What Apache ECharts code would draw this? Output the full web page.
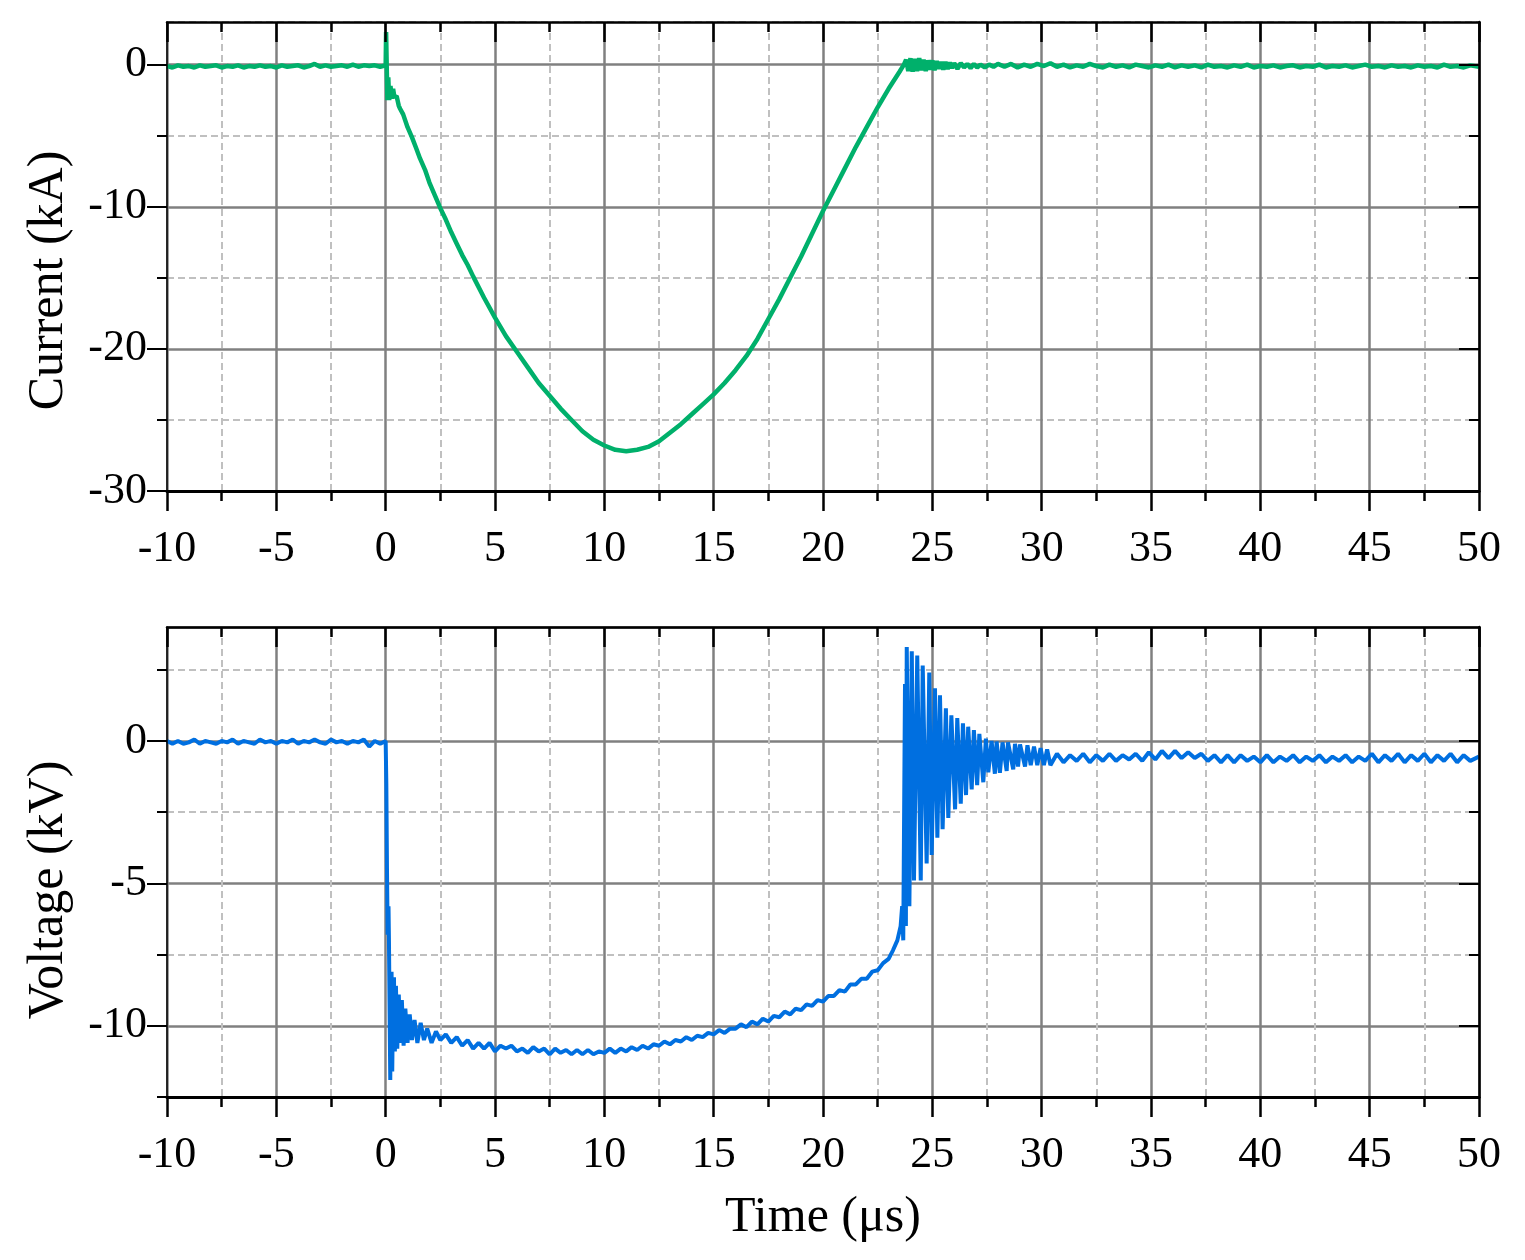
<!DOCTYPE html>
<html>
<head>
<meta charset="utf-8">
<script src="https://cdn.jsdelivr.net/npm/echarts@6/dist/echarts.min.js"></script>
<style>
html,body{margin:0;padding:0;background:#fff;}
#chart{width:1525px;height:1260px;}
</style>
</head>
<body>
<div id="chart"></div>
<script>
// ---------- axis ranges / tick values ----------
const X_MIN = -10, X_MAX = 50, X_STEP = 5;
const I_MIN = -30, I_MAX = 3, I_STEP = 5;
const I_MAJOR = [-30, -20, -10, 0];
const I_MINOR = [-25, -15, -5];
const V_MIN = -12.5, V_MAX = 4, V_STEP = 2.5;
const V_MAJOR = [-10, -5, 0];
const V_MINOR = [-12.5, -7.5, -2.5, 2.5];

// ---------- current (kA) vs time (us) ----------
const currentPre = [[-10,-0.1],[-9.75,-0.2],[-9.5,-0.05],[-9.25,-0.15],[-9,-0.1],[-8.75,-0.2],[-8.5,-0.05],[-8.25,-0.15],[-8,-0.1],[-7.75,-0.05],[-7.5,-0.2],[-7.25,-0.1],[-7,-0.15],[-6.75,-0.05],[-6.5,-0.2],[-6.25,-0.1],[-6,-0.15],[-5.75,-0.05],[-5.5,-0.15],[-5.25,-0.1],[-5,-0.2],[-4.75,-0.05],[-4.5,-0.15],[-4.25,-0.1],[-4,-0.05],[-3.75,-0.2],[-3.5,-0.1],[-3.25,0.05],[-3,-0.15],[-2.75,-0.05],[-2.5,-0.15],[-2.25,-0.1],[-2,-0.05],[-1.75,-0.15],[-1.5,0.0],[-1.25,-0.15],[-1,-0.05],[-0.75,-0.1],[-0.5,-0.05],[-0.25,-0.15],[0,-0.05]];
const currentPulse = [[0.02,2.3],[0.05,-0.3],[0.08,-2.5],[0.12,-0.9],[0.16,-2.5],[0.22,-1.5],[0.28,-2.4],[0.34,-1.7],[0.4,-2.3],[0.5,-2.2],[0.6,-2.9],[0.66,-3.1],[0.8,-3.5],[1.0,-4.4],[1.2,-5.1],[1.4,-5.9],[1.57,-6.6],[1.8,-7.4],[2.0,-8.3],[2.25,-9.2],[2.5,-10.1],[2.75,-10.9],[3.0,-11.8],[3.25,-12.6],[3.5,-13.4],[3.75,-14.1],[4.0,-14.9],[4.5,-16.4],[5.0,-17.8],[5.5,-19.1],[6.0,-20.2],[6.5,-21.3],[7.0,-22.4],[7.5,-23.3],[8.0,-24.2],[8.5,-25.0],[9.0,-25.8],[9.5,-26.4],[10.0,-26.8],[10.5,-27.1],[11.0,-27.2],[11.5,-27.1],[12.0,-26.9],[12.5,-26.5],[13.0,-25.9],[13.5,-25.3],[14.0,-24.6],[14.5,-23.9],[15.0,-23.2],[15.5,-22.4],[16.0,-21.5],[16.5,-20.5],[17.0,-19.3],[17.5,-17.9],[18.0,-16.5],[18.5,-15.0],[19.0,-13.5],[19.5,-11.9],[20.0,-10.3],[20.5,-8.8],[21.0,-7.3],[21.5,-5.8],[22.0,-4.4],[22.5,-3.0],[23.0,-1.7],[23.5,-0.5],[23.7,0.0]];
const currentPost = [[23.8,0.35],[23.9,-0.45],[24.0,0.45],[24.1,-0.5],[24.2,0.4],[24.3,-0.45],[24.4,0.45],[24.5,-0.4],[24.6,0.35],[24.7,-0.45],[24.8,0.3],[24.9,-0.35],[25.0,0.3],[25.1,-0.4],[25.2,0.25],[25.3,-0.3],[25.4,0.2],[25.5,-0.35],[25.6,0.2],[25.7,-0.3],[25.8,0.15],[25.9,-0.25],[26.0,0.1],[26.15,-0.3],[26.3,0.1],[26.45,-0.2],[26.6,0.05],[26.75,-0.25],[26.9,0.05],[27.05,-0.2],[27.2,0.0],[27.4,-0.2],[27.6,0.0],[27.8,-0.15],[28.0,0.05],[28.3,-0.15],[28.6,0.05],[28.9,-0.2],[29.2,0.0],[29.5,-0.15],[29.8,0.05],[30.1,-0.1],[30.4,0.1],[30.7,-0.15],[31.0,0.0],[31.3,-0.2],[31.6,-0.05],[31.9,-0.15],[32.2,0.05],[32.5,-0.1],[32.8,-0.2],[33.1,0.0],[33.4,-0.15],[33.7,-0.05],[34.0,-0.2],[34.3,0.0],[34.6,-0.1],[34.9,-0.2],[35.2,-0.05],[35.5,-0.15],[35.8,0.0],[36.1,-0.2],[36.4,-0.05],[36.7,-0.15],[37.0,-0.05],[37.3,-0.2],[37.6,0.0],[37.9,-0.15],[38.2,-0.1],[38.5,-0.2],[38.8,-0.05],[39.1,-0.15],[39.4,0.0],[39.7,-0.2],[40.0,-0.1],[40.3,-0.15],[40.6,-0.05],[40.9,-0.2],[41.2,-0.1],[41.5,-0.05],[41.8,-0.2],[42.1,-0.1],[42.4,-0.15],[42.7,0.0],[43.0,-0.2],[43.3,-0.1],[43.6,-0.15],[43.9,-0.05],[44.2,-0.2],[44.5,-0.1],[44.8,0.0],[45.1,-0.15],[45.4,-0.1],[45.7,-0.2],[46.0,-0.05],[46.3,-0.15],[46.6,-0.1],[46.9,-0.2],[47.2,-0.05],[47.5,-0.15],[47.8,-0.1],[48.1,-0.2],[48.4,0.0],[48.7,-0.15],[49.0,-0.1],[49.3,-0.2],[49.6,-0.05],[50.0,-0.15]];

// ---------- voltage (kV) vs time (us) ----------
const voltagePre = [[-10,0.0],[-9.75,-0.1],[-9.5,0.0],[-9.25,-0.1],[-9,-0.05],[-8.75,0.05],[-8.5,-0.1],[-8.25,0.0],[-8,-0.05],[-7.75,-0.1],[-7.5,0.0],[-7.25,-0.05],[-7,0.05],[-6.75,-0.1],[-6.5,0.0],[-6.25,-0.05],[-6,-0.1],[-5.75,0.05],[-5.5,-0.05],[-5.25,0.0],[-5,-0.1],[-4.75,0.0],[-4.5,-0.05],[-4.25,0.05],[-4,-0.1],[-3.75,0.0],[-3.5,-0.05],[-3.25,0.05],[-3,-0.05],[-2.75,-0.1],[-2.5,0.05],[-2.25,-0.05],[-2,0.0],[-1.75,-0.1],[-1.5,0.0],[-1.25,-0.05],[-1,0.05],[-0.75,-0.2],[-0.5,0.0],[-0.25,-0.1],[0,0.0]];
const voltageFall = [[0.03,-1.5],[0.06,-4.5],[0.09,-6.8],[0.11,-6.0],[0.13,-5.8],[0.15,-7.0],[0.18,-9.5],[0.21,-11.9],[0.24,-9.0],[0.27,-8.1],[0.3,-11.6],[0.34,-9.0],[0.38,-8.3],[0.42,-10.9],[0.47,-8.6],[0.53,-10.8],[0.6,-8.9],[0.67,-10.6],[0.74,-9.1],[0.82,-10.7],[0.9,-9.4],[1.0,-10.6],[1.1,-9.6],[1.2,-10.5],[1.32,-9.8],[1.45,-10.6],[1.6,-9.9],[1.75,-10.5],[1.9,-10.1],[2.1,-10.6],[2.3,-10.2],[2.5,-10.5],[2.75,-10.3],[3.0,-10.6],[3.25,-10.4],[3.5,-10.7],[3.75,-10.5],[4.0,-10.8],[4.25,-10.6],[4.5,-10.8],[4.75,-10.6],[5.0,-10.9],[5.25,-10.7],[5.5,-10.8],[5.75,-10.7],[6.0,-10.9],[6.25,-10.8],[6.5,-10.95],[6.75,-10.75],[7.0,-10.9],[7.25,-10.8],[7.5,-11.0],[7.75,-10.8],[8.0,-10.95],[8.25,-10.85],[8.5,-11.0],[8.75,-10.85],[9.0,-11.0],[9.25,-10.85],[9.5,-11.0],[9.75,-10.9],[10.0,-10.95],[10.25,-10.8],[10.5,-10.95],[10.75,-10.8],[11.0,-10.9],[11.25,-10.75],[11.5,-10.85],[11.75,-10.7],[12.0,-10.8],[12.25,-10.65],[12.5,-10.7],[12.75,-10.55],[13.0,-10.65],[13.25,-10.5],[13.5,-10.55],[13.75,-10.4],[14.0,-10.5],[14.25,-10.35],[14.5,-10.4],[14.75,-10.25],[15.0,-10.3],[15.25,-10.15],[15.5,-10.25],[15.75,-10.1],[16.0,-10.1],[16.25,-9.95],[16.5,-10.05],[16.75,-9.85],[17.0,-9.95],[17.25,-9.75],[17.5,-9.85],[17.75,-9.65],[18.0,-9.7],[18.25,-9.5],[18.5,-9.6],[18.75,-9.4],[19.0,-9.45],[19.25,-9.25],[19.5,-9.3],[19.75,-9.1],[20.0,-9.15],[20.25,-8.95],[20.5,-8.95],[20.75,-8.75],[21.0,-8.8],[21.25,-8.55],[21.5,-8.55],[21.75,-8.35],[22.0,-8.35],[22.25,-8.1],[22.5,-8.05],[22.75,-7.8],[23.0,-7.65],[23.2,-7.35],[23.4,-7.0],[23.55,-6.5],[23.62,-5.8]];
const voltageRing = [[23.67,-7.0],[23.75,2.0],[23.79,-6.5],[23.83,3.3],[23.95,-5.8],[24.06,3.15],[24.16,-4.9],[24.31,3.0],[24.47,-4.9],[24.56,2.65],[24.74,-4.3],[24.86,2.4],[24.97,-4.0],[25.12,1.85],[25.23,-3.4],[25.35,1.6],[25.47,-3.1],[25.62,1.15],[25.73,-2.7],[25.87,0.9],[26.04,-2.4],[26.14,0.8],[26.30,-2.2],[26.40,0.62],[26.54,-1.9],[26.64,0.5],[26.80,-1.7],[26.90,0.38],[27.05,-1.55],[27.15,0.25],[27.33,-1.45],[27.45,0.08],[27.56,-1.1],[27.71,0.0],[27.86,-1.15],[27.94,-0.02],[28.09,-1.12],[28.21,-0.05],[28.40,-1.05],[28.46,-0.05],[28.70,-1.0],[28.78,-0.1],[28.92,-0.9],[29.01,-0.12],[29.24,-0.9],[29.35,-0.15],[29.5,-0.85],[29.65,-0.2],[29.8,-0.85],[29.95,-0.25],[30.1,-0.85],[30.25,-0.3],[30.4,-0.85]];
const voltagePost = [[30.7,-0.45],[31.0,-0.75],[31.3,-0.5],[31.6,-0.7],[31.9,-0.45],[32.2,-0.75],[32.5,-0.5],[32.8,-0.7],[33.1,-0.45],[33.4,-0.7],[33.7,-0.5],[34.0,-0.65],[34.3,-0.45],[34.6,-0.7],[34.9,-0.4],[35.2,-0.65],[35.5,-0.35],[35.8,-0.6],[36.1,-0.35],[36.4,-0.6],[36.7,-0.4],[37.0,-0.6],[37.3,-0.45],[37.6,-0.7],[37.9,-0.5],[38.2,-0.75],[38.5,-0.5],[38.8,-0.75],[39.1,-0.5],[39.4,-0.7],[39.7,-0.55],[40.0,-0.75],[40.3,-0.5],[40.6,-0.75],[40.9,-0.55],[41.2,-0.7],[41.5,-0.5],[41.8,-0.75],[42.1,-0.55],[42.4,-0.7],[42.7,-0.5],[43.0,-0.75],[43.3,-0.55],[43.6,-0.7],[43.9,-0.5],[44.2,-0.75],[44.5,-0.55],[44.8,-0.7],[45.1,-0.45],[45.4,-0.75],[45.7,-0.5],[46.0,-0.7],[46.3,-0.45],[46.6,-0.75],[46.9,-0.5],[47.2,-0.7],[47.5,-0.45],[47.8,-0.75],[48.1,-0.5],[48.4,-0.7],[48.7,-0.45],[49.0,-0.75],[49.3,-0.5],[49.6,-0.7],[50.0,-0.55]];

// ---------- styling ----------
const FONT = 'Liberation Serif';
const BLACK = '#000';
const MAJOR_GRID = '#808080';
const MINOR_GRID = '#c0c0c0';
const NONE = 'rgba(0,0,0,0)';

const grids = [
  {left: 167, right: 46, top: 22, height: 469},
  {left: 167, right: 46, top: 627, height: 470}
];

function xAxesFor(g, name) {
  return [
    { // visible bottom axis
      gridIndex: g, type: 'value', min: X_MIN, max: X_MAX, interval: X_STEP, position: 'bottom', z: 3,
      axisLine: {show: true, onZero: false, lineStyle: {color: BLACK, width: 3}},
      axisTick: {show: true, inside: false, length: 20, lineStyle: {color: BLACK, width: 2.5}},
      minorTick: {show: true, splitNumber: 2, length: 10, lineStyle: {color: BLACK, width: 2.5}},
      splitLine: {show: false},
      axisLabel: {show: true, fontFamily: FONT, fontSize: 44, color: BLACK, margin: 36},
      name: name || '', nameLocation: 'middle', nameGap: 96,
      nameTextStyle: {fontFamily: FONT, fontSize: 50, color: BLACK}
    },
    { // top mirror
      gridIndex: g, type: 'value', min: X_MIN, max: X_MAX, interval: X_STEP, position: 'top', z: 3,
      axisLine: {show: true, onZero: false, lineStyle: {color: BLACK, width: 2.5}},
      axisTick: {show: true, inside: true, length: 20, lineStyle: {color: BLACK, width: 2.5}},
      minorTick: {show: true, splitNumber: 2, length: 10, lineStyle: {color: BLACK, width: 2.5}},
      splitLine: {show: false}, axisLabel: {show: false}
    },
    { // grid lines
      gridIndex: g, type: 'value', min: X_MIN, max: X_MAX, interval: X_STEP, position: 'bottom', z: 0,
      axisLine: {show: false, onZero: false}, axisTick: {show: false}, axisLabel: {show: false},
      minorTick: {show: false, splitNumber: 2},
      splitLine: {show: true, lineStyle: {color: MAJOR_GRID, width: 2.5}},
      minorSplitLine: {show: true, lineStyle: {color: MINOR_GRID, width: 2, type: [7, 4]}}
    }
  ];
}

function yAxesFor(g, min, max, step, majors, minors, name, majorFirst, namePad) {
  const base = {gridIndex: g, type: 'value', min: min, max: max, interval: step};
  const solidColors = majorFirst ? [MAJOR_GRID, NONE] : [NONE, MAJOR_GRID];
  const dashColors = majorFirst ? [NONE, MINOR_GRID] : [MINOR_GRID, NONE];
  return [
    Object.assign({}, base, { // left, majors + labels
      position: 'left', z: 3,
      axisLine: {show: true, onZero: false, lineStyle: {color: BLACK, width: 1.5}},
      axisTick: {show: true, inside: false, length: 20, customValues: majors, lineStyle: {color: BLACK, width: 2}},
      axisLabel: {show: true, fontFamily: FONT, fontSize: 44, color: BLACK, margin: 20,
        formatter: v => (majors.indexOf(v) >= 0 ? String(v) : '')},
      splitLine: {show: false},
      name: name, nameLocation: 'middle', nameGap: 93,
      nameTextStyle: {fontFamily: FONT, fontSize: 50, color: BLACK, padding: namePad}
    }),
    Object.assign({}, base, { // left, minors
      position: 'left', z: 3,
      axisLine: {show: false, onZero: false},
      axisTick: {show: true, inside: false, length: 10, customValues: minors, lineStyle: {color: BLACK, width: 2}},
      axisLabel: {show: false}, splitLine: {show: false}
    }),
    Object.assign({}, base, { // right, majors
      position: 'right', z: 3,
      axisLine: {show: true, onZero: false, lineStyle: {color: BLACK, width: 2.5}},
      axisTick: {show: true, inside: true, length: 20, customValues: majors, lineStyle: {color: BLACK, width: 2}},
      axisLabel: {show: false}, splitLine: {show: false}
    }),
    Object.assign({}, base, { // right, minors
      position: 'right', z: 3,
      axisLine: {show: false, onZero: false},
      axisTick: {show: true, inside: true, length: 10, customValues: minors, lineStyle: {color: BLACK, width: 2}},
      axisLabel: {show: false}, splitLine: {show: false}
    }),
    Object.assign({}, base, { // solid major grid lines
      position: 'left', z: 0,
      axisLine: {show: false, onZero: false}, axisTick: {show: false}, axisLabel: {show: false},
      splitLine: {show: true, lineStyle: {color: solidColors, width: 2.5}}
    }),
    Object.assign({}, base, { // dashed minor grid lines
      position: 'left', z: 0,
      axisLine: {show: false, onZero: false}, axisTick: {show: false}, axisLabel: {show: false},
      splitLine: {show: true, lineStyle: {color: dashColors, width: 2, type: [7, 4]}}
    })
  ];
}

const xAxes = xAxesFor(0, '').concat(xAxesFor(1, 'Time (\u03bcs)'));
const yAxes = yAxesFor(0, I_MIN, I_MAX, I_STEP, I_MAJOR, I_MINOR, 'Current (kA)', true, [0, 48, 0, 0])
  .concat(yAxesFor(1, V_MIN, V_MAX, V_STEP, V_MAJOR, V_MINOR, 'Voltage (kV)', false, [0, 56, 0, 0]));

const chart = echarts.init(document.getElementById('chart'), null, {renderer: 'canvas', width: 1525, height: 1260});
chart.setOption({
  animation: false,
  backgroundColor: '#fff',
  grid: grids,
  xAxis: xAxes,
  yAxis: yAxes,
  series: [
    {
      name: 'Current', type: 'line', xAxisIndex: 0, yAxisIndex: 0, z: 2,
      showSymbol: false, symbol: 'none',
      lineStyle: {color: '#00B06B', width: 4.5},
      data: currentPre.concat(currentPulse, currentPost)
    },
    {
      name: 'Voltage', type: 'line', xAxisIndex: 3, yAxisIndex: 6, z: 2,
      showSymbol: false, symbol: 'none',
      lineStyle: {color: '#006FE0', width: 4},
      data: voltagePre.concat(voltageFall, voltageRing, voltagePost)
    }
  ]
});
</script>
</body>
</html>
